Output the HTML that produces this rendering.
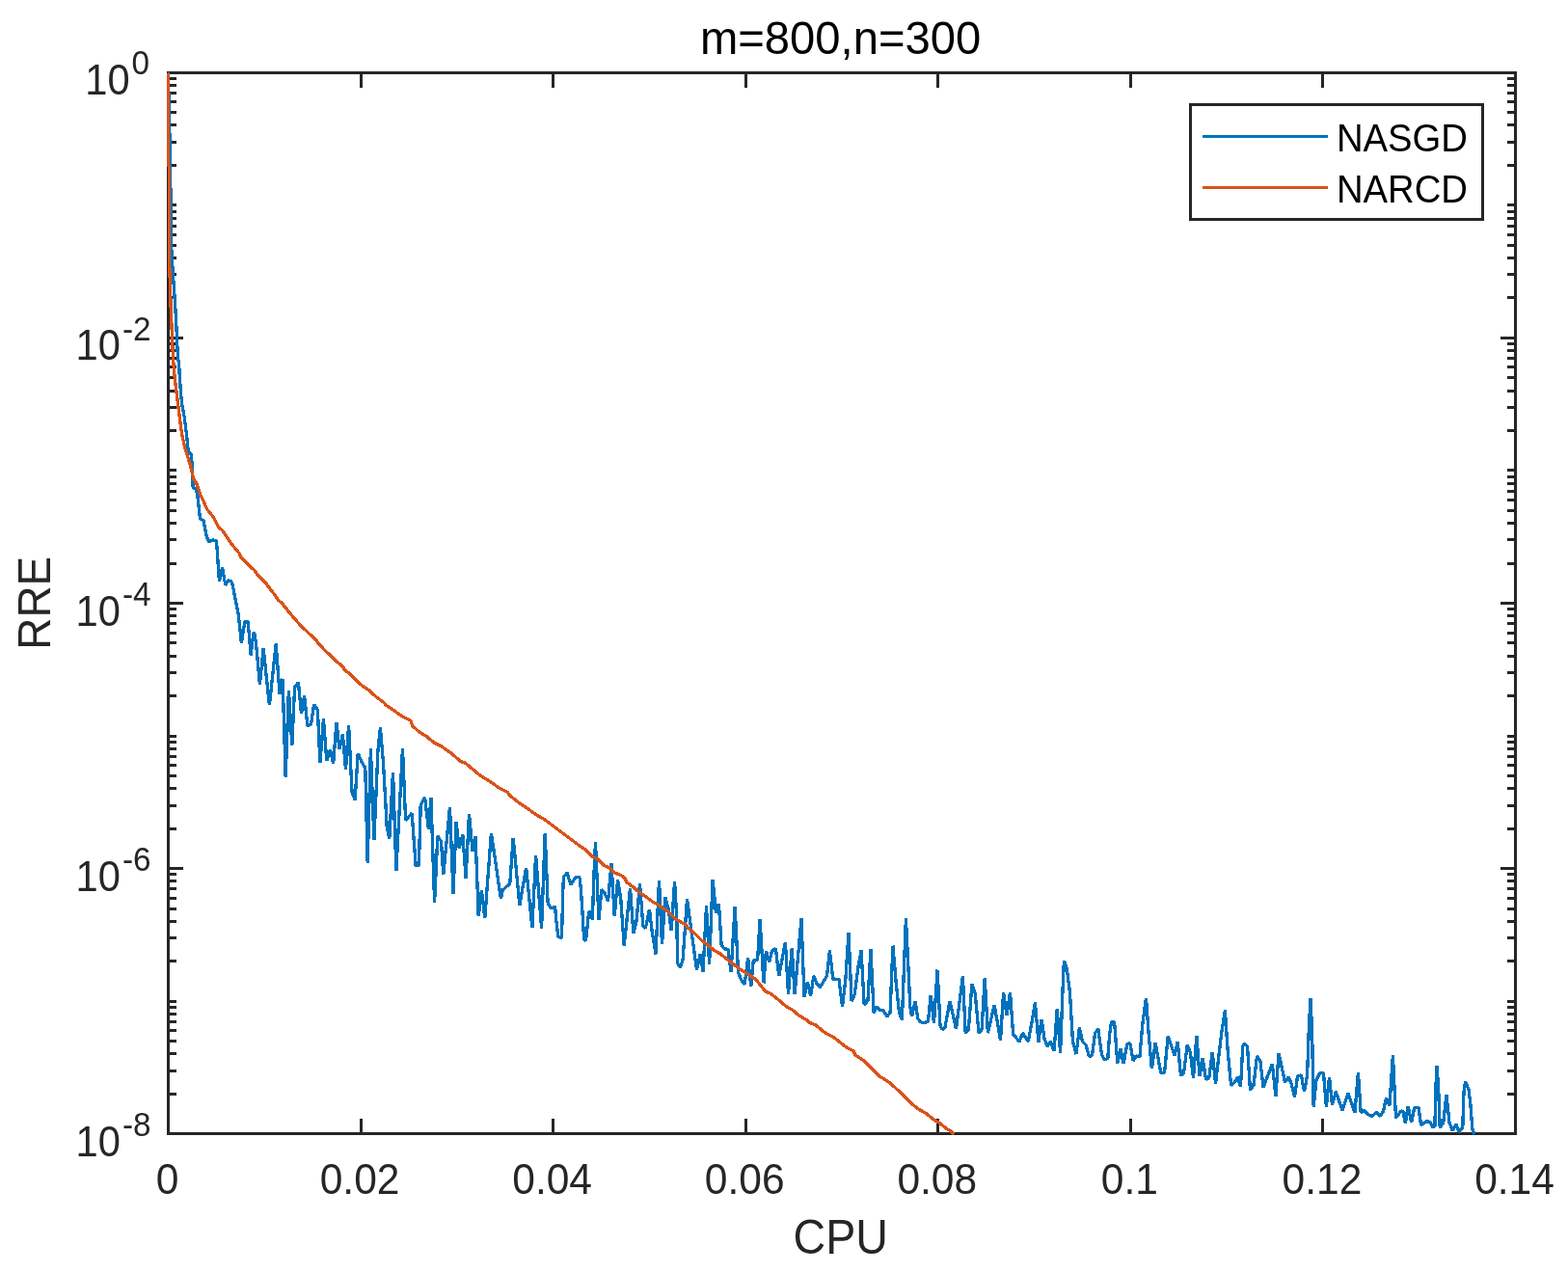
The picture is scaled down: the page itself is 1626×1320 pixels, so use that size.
<!DOCTYPE html>
<html><head><meta charset="utf-8"><title>m=800,n=300</title>
<style>html,body{margin:0;padding:0;background:#fff}body{width:1626px;height:1320px;overflow:hidden}svg{display:block}</style>
</head><body>
<svg width="1626" height="1320" viewBox="0 0 1626 1320" font-family="'Liberation Sans', Arial, Helvetica, sans-serif">
<rect x="0" y="0" width="1626" height="1320" fill="#fff"/>
<path d="M374.07,1175.5v-15.3M374.07,75.5v15.3M573.64,1175.5v-15.3M573.64,75.5v15.3M773.21,1175.5v-15.3M773.21,75.5v15.3M972.79,1175.5v-15.3M972.79,75.5v15.3M1172.36,1175.5v-15.3M1172.36,75.5v15.3M1371.93,1175.5v-15.3M1371.93,75.5v15.3M174.5,171.41h8.6M1571.5,171.41h-8.6M174.5,147.18h8.6M1571.5,147.18h-8.6M174.5,129.99h8.6M1571.5,129.99h-8.6M174.5,116.66h8.6M1571.5,116.66h-8.6M174.5,105.77h8.6M1571.5,105.77h-8.6M174.5,96.56h8.6M1571.5,96.56h-8.6M174.5,88.58h8.6M1571.5,88.58h-8.6M174.5,81.54h8.6M1571.5,81.54h-8.6M174.5,212.82h8.6M1571.5,212.82h-8.6M174.5,308.98h8.6M1571.5,308.98h-8.6M174.5,284.75h8.6M1571.5,284.75h-8.6M174.5,267.56h8.6M1571.5,267.56h-8.6M174.5,254.23h8.6M1571.5,254.23h-8.6M174.5,243.34h8.6M1571.5,243.34h-8.6M174.5,234.13h8.6M1571.5,234.13h-8.6M174.5,226.15h8.6M1571.5,226.15h-8.6M174.5,219.11h8.6M1571.5,219.11h-8.6M174.5,350.39h15.3M1571.5,350.39h-15.3M174.5,446.54h8.6M1571.5,446.54h-8.6M174.5,422.32h8.6M1571.5,422.32h-8.6M174.5,405.13h8.6M1571.5,405.13h-8.6M174.5,391.80h8.6M1571.5,391.80h-8.6M174.5,380.91h8.6M1571.5,380.91h-8.6M174.5,371.70h8.6M1571.5,371.70h-8.6M174.5,363.72h8.6M1571.5,363.72h-8.6M174.5,356.68h8.6M1571.5,356.68h-8.6M174.5,487.96h8.6M1571.5,487.96h-8.6M174.5,584.11h8.6M1571.5,584.11h-8.6M174.5,559.89h8.6M1571.5,559.89h-8.6M174.5,542.70h8.6M1571.5,542.70h-8.6M174.5,529.37h8.6M1571.5,529.37h-8.6M174.5,518.48h8.6M1571.5,518.48h-8.6M174.5,509.27h8.6M1571.5,509.27h-8.6M174.5,501.29h8.6M1571.5,501.29h-8.6M174.5,494.25h8.6M1571.5,494.25h-8.6M174.5,625.52h15.3M1571.5,625.52h-15.3M174.5,721.68h8.6M1571.5,721.68h-8.6M174.5,697.46h8.6M1571.5,697.46h-8.6M174.5,680.27h8.6M1571.5,680.27h-8.6M174.5,666.94h8.6M1571.5,666.94h-8.6M174.5,656.04h8.6M1571.5,656.04h-8.6M174.5,646.83h8.6M1571.5,646.83h-8.6M174.5,638.86h8.6M1571.5,638.86h-8.6M174.5,631.82h8.6M1571.5,631.82h-8.6M174.5,763.09h8.6M1571.5,763.09h-8.6M174.5,859.25h8.6M1571.5,859.25h-8.6M174.5,835.03h8.6M1571.5,835.03h-8.6M174.5,817.84h8.6M1571.5,817.84h-8.6M174.5,804.51h8.6M1571.5,804.51h-8.6M174.5,793.61h8.6M1571.5,793.61h-8.6M174.5,784.40h8.6M1571.5,784.40h-8.6M174.5,776.43h8.6M1571.5,776.43h-8.6M174.5,769.39h8.6M1571.5,769.39h-8.6M174.5,900.66h15.3M1571.5,900.66h-15.3M174.5,996.82h8.6M1571.5,996.82h-8.6M174.5,972.59h8.6M1571.5,972.59h-8.6M174.5,955.41h8.6M1571.5,955.41h-8.6M174.5,942.07h8.6M1571.5,942.07h-8.6M174.5,931.18h8.6M1571.5,931.18h-8.6M174.5,921.97h8.6M1571.5,921.97h-8.6M174.5,913.99h8.6M1571.5,913.99h-8.6M174.5,906.96h8.6M1571.5,906.96h-8.6M174.5,1038.23h8.6M1571.5,1038.23h-8.6M174.5,1134.39h8.6M1571.5,1134.39h-8.6M174.5,1110.16h8.6M1571.5,1110.16h-8.6M174.5,1092.98h8.6M1571.5,1092.98h-8.6M174.5,1079.64h8.6M1571.5,1079.64h-8.6M174.5,1068.75h8.6M1571.5,1068.75h-8.6M174.5,1059.54h8.6M1571.5,1059.54h-8.6M174.5,1051.56h8.6M1571.5,1051.56h-8.6M174.5,1044.53h8.6M1571.5,1044.53h-8.6" stroke="#262626" stroke-width="3" fill="none" shape-rendering="crispEdges"/>
<rect x="174.5" y="75.5" width="1397.0" height="1100.0" fill="none" stroke="#262626" stroke-width="3" shape-rendering="crispEdges"/>
<clipPath id="clip"><rect x="172.9" y="74.1" width="1400.2" height="1102.8"/></clipPath>
<polyline clip-path="url(#clip)" points="174.6,75.5 175.4,137.0 176.3,139.0 176.4,194.0 177.2,196.0 177.4,250.0 178.6,272.0 180.5,300.0 182.5,330.0 184.4,370.0 185.6,377.5 186.2,388.8 187.5,407.5 188.8,420.0 191.2,432.5 193.1,447.5 195.0,465.0 196.2,470.0 198.5,471.0 199.1,482.5 199.8,495.0 200.2,506.2 203.1,506.9 204.4,511.2 205.6,520.0 205.6,520.0 206.6,530.0 207.5,538.1 211.2,540.0 212.5,547.5 214.4,556.9 216.9,561.9 220.6,559.8 224.4,560.6 225.4,572.5 226.2,585.0 227.5,603.1 228.8,595.0 230.6,588.8 231.9,596.2 233.8,606.9 236.2,601.9 239.4,602.5 241.2,606.2 243.8,620.0 246.9,635.0 248.8,651.2 250.4,666.9 252.5,652.5 253.8,645.0 256.9,644.4 258.1,655.0 260.2,679.4 261.9,663.8 263.4,655.0 265.0,663.8 266.2,673.8 269.4,710.0 273.1,671.9 279.4,731.2 286.2,667.5 290.0,720.0 293.1,703.8 296.2,806.2 299.4,715.6 302.8,773.1 305.6,712.5 309.4,707.5 312.5,740.0 315.6,721.2 318.8,752.5 322.5,751.2 325.6,730.6 329.4,736.2 331.9,791.2 335.4,745.6 338.8,788.8 342.5,777.5 345.6,791.9 349.0,748.8 351.9,776.9 355.4,761.2 358.5,798.1 361.6,751.9 365.0,821.2 368.1,829.4 371.2,781.2 375.0,790.0 378.8,796.2 381.2,895.0 384.4,776.2 387.9,870.6 391.9,778.8 394.4,754.4 397.5,791.2 401.2,857.5 403.8,869.4 407.5,800.6 410.9,902.5 417.5,776.2 420.6,850.6 427.1,843.1 431.2,898.1 434.4,896.9 436.2,835.0 440.6,826.9 444.4,860.0 446.9,826.9 450.6,936.2 453.8,866.9 457.5,872.5 459.8,906.9 466.5,836.9 470.0,926.9 473.1,852.5 476.2,879.4 479.8,865.6 483.1,910.6 486.5,843.8 490.0,882.5 493.1,867.5 496.2,950.0 499.4,923.1 502.8,951.9 509.4,863.8 519.4,931.9 521.2,923.1 528.8,916.2 532.2,868.8 538.8,938.8 545.6,900.0 551.9,961.9 555.6,886.9 561.6,962.5 565.2,863.8 568.1,936.2 571.2,941.9 575.6,940.0 576.9,955.0 578.8,971.2 582.5,972.5 583.8,923.8 584.4,909.4 588.1,905.0 591.9,917.5 596.9,909.4 601.2,910.0 602.5,923.8 603.8,942.5 605.6,973.8 607.5,975.6 610.6,946.2 612.5,945.6 614.4,953.8 615.6,915.0 617.5,873.1 619.4,917.5 621.0,953.8 623.8,922.5 626.9,925.6 630.6,934.4 634.0,895.0 637.2,950.0 640.6,911.9 643.8,932.5 647.2,980.6 653.5,921.2 656.9,967.5 660.0,955.0 663.5,916.2 666.9,960.0 669.4,962.5 673.5,943.1 676.2,966.2 680.0,989.4 683.5,913.1 686.5,979.4 689.8,930.0 693.1,942.5 696.2,965.0 699.6,913.8 701.9,955.0 702.5,998.8 705.6,1003.1 708.1,995.0 712.5,932.5 722.5,1005.6 726.2,989.4 729.1,1008.1 732.5,939.4 735.6,1000.0 739.1,911.9 742.5,946.9 745.4,936.9 748.1,980.0 751.2,983.8 755.0,984.4 758.1,1008.1 762.1,940.0 765.6,1008.8 769.4,1017.5 772.2,1020.6 775.6,993.1 778.8,1022.5 781.2,996.2 785.6,995.6 788.1,953.1 791.9,1019.4 794.4,986.2 797.8,997.5 800.6,985.6 804.4,983.8 807.8,1011.9 814.4,976.9 817.5,1030.6 821.2,983.1 824.1,1030.6 831.0,952.5 834.0,1033.8 837.5,1018.1 840.6,1033.1 843.8,1011.9 846.9,1020.0 850.2,1023.8 857.5,1011.9 860.4,985.6 863.8,1015.0 870.0,1015.6 873.5,1043.8 876.9,1015.0 880.0,966.9 883.1,1038.1 886.2,1031.2 890.0,1002.5 893.1,985.6 896.2,1041.9 900.0,1037.5 902.9,984.4 906.2,1050.6 908.8,1043.8 912.5,1047.5 916.2,1048.1 920.0,1053.8 923.1,1050.0 925.9,980.6 929.4,1021.2 932.5,1050.0 935.4,1057.5 937.5,1002.5 939.4,952.5 941.9,1002.5 943.8,1043.8 945.6,1053.8 949.0,1038.1 951.9,1056.2 955.0,1060.0 958.8,1060.6 962.5,1058.8 965.2,1031.9 968.5,1060.6 972.1,1005.6 975.0,1063.8 977.5,1067.5 980.0,1065.0 985.0,1038.1 991.5,1066.9 998.4,1011.9 1001.2,1071.2 1004.4,1067.5 1007.9,1020.6 1011.2,1030.0 1015.0,1071.2 1018.1,1067.5 1021.2,1013.8 1024.4,1071.2 1031.2,1041.9 1037.5,1078.8 1040.6,1029.4 1044.0,1052.5 1047.5,1028.8 1050.6,1072.5 1057.1,1080.0 1060.6,1071.2 1066.2,1080.0 1070.0,1060.0 1073.4,1039.4 1076.9,1080.6 1080.0,1056.9 1083.1,1077.5 1086.2,1085.0 1089.4,1080.0 1093.1,1090.0 1096.2,1046.2 1099.6,1091.9 1101.9,1028.8 1103.4,996.2 1106.2,1003.8 1109.4,1028.8 1112.5,1080.0 1116.0,1093.1 1119.4,1065.6 1122.5,1080.0 1126.2,1083.8 1129.4,1095.6 1132.5,1094.4 1135.6,1071.2 1138.8,1066.9 1142.5,1093.8 1145.6,1098.8 1148.8,1097.5 1150.6,1072.5 1152.5,1060.0 1155.6,1059.6 1158.8,1102.5 1161.9,1087.5 1165.0,1103.1 1168.8,1082.5 1171.9,1081.9 1175.2,1100.0 1178.1,1095.0 1181.9,1095.6 1185.0,1060.0 1188.5,1035.0 1191.2,1072.5 1194.4,1108.1 1198.1,1081.2 1203.8,1112.5 1207.5,1112.5 1211.2,1074.4 1218.1,1094.4 1221.2,1080.0 1224.4,1115.0 1227.5,1113.1 1231.2,1083.8 1234.4,1091.2 1237.5,1118.1 1240.9,1073.8 1244.0,1116.2 1247.1,1097.5 1250.6,1119.4 1253.8,1117.5 1257.2,1091.2 1260.6,1123.8 1263.8,1095.0 1266.9,1070.0 1270.4,1047.5 1273.1,1088.8 1276.6,1125.6 1280.0,1122.5 1283.5,1116.9 1286.5,1126.9 1288.8,1085.0 1290.6,1081.9 1293.5,1085.0 1296.5,1130.6 1300.0,1125.0 1303.5,1095.0 1306.9,1100.0 1310.0,1127.5 1319.4,1103.1 1322.9,1136.9 1326.0,1091.9 1329.4,1107.5 1332.5,1122.5 1335.9,1116.9 1338.8,1122.5 1342.5,1137.5 1345.6,1115.6 1349.4,1115.0 1352.5,1131.9 1355.6,1115.0 1357.2,1070.0 1359.0,1035.0 1360.6,1070.0 1362.2,1147.5 1365.0,1120.0 1368.8,1112.5 1372.5,1113.1 1375.4,1147.5 1378.5,1116.9 1381.5,1145.6 1385.2,1131.9 1391.9,1151.2 1398.1,1133.8 1405.0,1153.8 1408.4,1111.9 1411.2,1153.8 1414.4,1151.2 1418.8,1155.6 1423.1,1157.5 1427.5,1153.1 1431.2,1157.5 1434.4,1152.5 1437.5,1138.8 1441.0,1146.2 1444.4,1094.4 1447.5,1159.4 1453.0,1151.9 1454.9,1152.5 1457.4,1165.0 1460.2,1146.9 1463.6,1163.8 1466.8,1148.1 1471.1,1148.8 1473.6,1166.9 1476.8,1164.4 1479.9,1162.5 1483.0,1163.8 1486.1,1169.4 1488.0,1167.5 1488.6,1132.5 1490.1,1105.0 1491.8,1132.5 1493.2,1169.4 1496.8,1163.8 1499.9,1135.0 1503.0,1163.8 1506.1,1172.5 1509.9,1165.6 1513.2,1173.8 1516.8,1168.8 1518.0,1132.5 1519.5,1121.2 1523.0,1130.0 1524.9,1145.0 1526.8,1170.0 1528.6,1176.2" fill="none" stroke="#0072BD" stroke-width="3.3" stroke-linejoin="bevel" stroke-linecap="butt" shape-rendering="crispEdges"/>
<polyline clip-path="url(#clip)" points="174.5,75.5 174.5,171.0 175.5,173.0 175.6,270.0 177.2,320.0 179.4,370.0 180.6,386.2 183.1,407.5 185.0,422.5 186.9,437.5 188.5,450.0 191.9,465.0 197.5,482.5 200.6,496.2 203.8,501.2 208.1,513.8 211.2,520.0 214.4,527.5 221.2,536.2 226.9,546.9 231.2,550.6 240.0,563.8 248.1,573.8 250.0,578.1 260.0,588.1 263.8,591.2 267.5,596.9 275.0,603.8 280.0,610.6 285.0,616.9 288.8,622.5 292.5,625.6 302.5,638.1 312.5,649.4 322.5,658.8 327.5,663.1 330.0,666.9 337.5,675.0 348.8,685.6 356.2,691.9 357.5,695.0 363.8,699.4 370.0,706.2 375.0,710.6 382.5,715.6 390.0,722.5 397.5,728.1 401.2,731.9 408.8,736.9 417.5,743.1 426.2,747.5 427.5,752.5 433.8,758.1 442.5,763.8 450.0,770.0 457.5,773.8 467.5,780.6 477.5,789.4 482.5,791.2 490.0,797.5 497.5,803.8 507.5,810.0 517.5,816.9 526.2,821.2 528.8,825.0 537.5,831.9 547.5,838.8 557.5,845.6 565.0,850.0 572.5,855.6 600.0,876.2 607.5,881.2 615.0,888.8 618.8,890.0 626.2,897.5 631.2,899.4 636.2,904.4 643.8,907.5 647.5,910.0 650.0,915.0 656.2,919.4 662.5,925.0 670.0,930.0 677.5,935.6 682.5,938.1 687.5,941.9 692.5,945.0 700.0,952.5 706.2,956.2 711.2,958.8 713.8,962.5 720.0,967.5 726.2,973.8 732.5,978.8 740.0,985.0 747.5,989.4 757.5,997.5 767.5,1005.0 777.5,1011.2 783.8,1015.6 788.8,1021.9 793.8,1028.1 798.8,1030.0 807.5,1036.9 816.2,1044.4 821.2,1046.9 828.8,1053.1 836.2,1057.5 840.0,1060.6 846.2,1063.1 855.0,1070.6 863.8,1075.0 872.5,1081.9 876.2,1085.0 885.0,1090.0 886.9,1093.8 897.5,1101.2 901.2,1105.0 912.5,1116.2 922.5,1122.5 930.0,1129.4 937.5,1136.2 946.2,1145.0 952.5,1150.0 960.0,1154.4 968.8,1161.2 975.0,1165.0 981.9,1170.6 985.6,1172.5 989.4,1176.2" fill="none" stroke="#D95319" stroke-width="3.3" stroke-linejoin="bevel" stroke-linecap="butt" shape-rendering="crispEdges"/>
<text transform="translate(173.50 1237.60) scale(1.02 1.055)" font-size="41.67" fill="#262626" text-anchor="middle">0</text>
<text transform="translate(373.07 1237.60) scale(1.02 1.055)" font-size="41.67" fill="#262626" text-anchor="middle">0.02</text>
<text transform="translate(572.64 1237.60) scale(1.02 1.055)" font-size="41.67" fill="#262626" text-anchor="middle">0.04</text>
<text transform="translate(772.21 1237.60) scale(1.02 1.055)" font-size="41.67" fill="#262626" text-anchor="middle">0.06</text>
<text transform="translate(971.79 1237.60) scale(1.02 1.055)" font-size="41.67" fill="#262626" text-anchor="middle">0.08</text>
<text transform="translate(1171.36 1237.60) scale(1.02 1.055)" font-size="41.67" fill="#262626" text-anchor="middle">0.1</text>
<text transform="translate(1370.93 1237.60) scale(1.02 1.055)" font-size="41.67" fill="#262626" text-anchor="middle">0.12</text>
<text transform="translate(1570.50 1237.60) scale(1.02 1.055)" font-size="41.67" fill="#262626" text-anchor="middle">0.14</text>
<text transform="translate(154.95 98.35) scale(1.0 1.07)" font-size="41.67" fill="#262626" text-anchor="end">10<tspan dx="1.85" dy="-19.6" font-size="33.3">0</tspan></text>
<text transform="translate(156.60 373.49) scale(1.0 1.07)" font-size="41.67" fill="#262626" text-anchor="end">10<tspan dx="2.2" dy="-19.6" font-size="33.3">-2</tspan></text>
<text transform="translate(156.60 648.62) scale(1.0 1.07)" font-size="41.67" fill="#262626" text-anchor="end">10<tspan dx="2.2" dy="-19.6" font-size="33.3">-4</tspan></text>
<text transform="translate(156.60 923.76) scale(1.0 1.07)" font-size="41.67" fill="#262626" text-anchor="end">10<tspan dx="2.2" dy="-19.6" font-size="33.3">-6</tspan></text>
<text transform="translate(156.60 1198.90) scale(1.0 1.07)" font-size="41.67" fill="#262626" text-anchor="end">10<tspan dx="2.2" dy="-19.6" font-size="33.3">-8</tspan></text>
<text transform="translate(871.80 1300.00) scale(1.017 1.075)" font-size="45.83" fill="#262626" text-anchor="middle">CPU</text>
<text transform="translate(52.00 625.30) rotate(-90) scale(1.0 1.05)" font-size="45.83" fill="#262626" text-anchor="middle">RRE</text>
<text transform="translate(871.60 55.80) scale(1.03 1.03)" font-size="45.83" fill="#000" text-anchor="middle">m=800,n=300</text>
<rect x="1234.5" y="108.5" width="303" height="119" fill="#fff" stroke="#262626" stroke-width="3" shape-rendering="crispEdges"/>
<line x1="1247" y1="141.5" x2="1377" y2="141.5" stroke="#0072BD" stroke-width="3" shape-rendering="crispEdges"/>
<line x1="1247" y1="194.5" x2="1377" y2="194.5" stroke="#D95319" stroke-width="3" shape-rendering="crispEdges"/>
<text transform="translate(1385.90 157.20) scale(1.02 1.1)" font-size="37.5" fill="#000" text-anchor="start">NASGD</text>
<text transform="translate(1385.90 210.30) scale(1.02 1.1)" font-size="37.5" fill="#000" text-anchor="start">NARCD</text>
</svg>
</body></html>
